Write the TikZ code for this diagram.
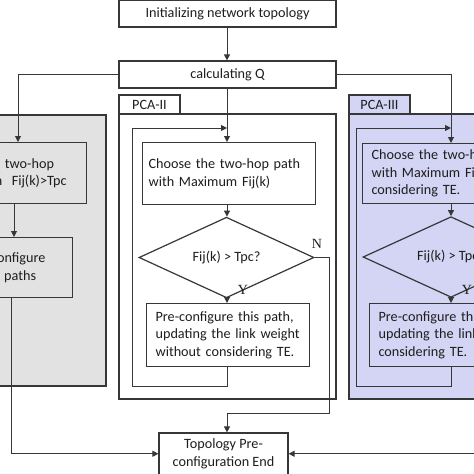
\documentclass[tikz,border=0pt]{standalone}
\usepackage{fontspec}
\setmainfont{Carlito}
\newfontfamily\ynfont{Liberation Serif}
\usetikzlibrary{arrows.meta,shapes.geometric}
\definecolor{linec}{RGB}{55,55,55}
\definecolor{txtc}{RGB}{30,30,30}
\definecolor{grayfill}{RGB}{226,226,226}
\definecolor{lav}{RGB}{212,212,244}
\begin{document}
\begin{tikzpicture}[x=1pt,y=-1pt,
  txt/.style={font=\fontsize{14.2}{17.6}\selectfont, text=txtc},
  box/.style={draw=linec, line width=1.2pt, rectangle, inner sep=0pt, txt},
  lbox/.style={box, align=left, anchor=north west},
  cbox/.style={box, align=center},
  dia/.style={draw=linec, line width=1.2pt, diamond, inner sep=0pt, txt},
  frame/.style={draw=linec, line width=1.2pt},
  arr/.style={draw=linec, line width=1pt, -{Triangle[length=6pt,width=6pt]}},
  conn/.style={draw=linec, line width=1pt},
  yn/.style={font=\ynfont\fontsize{14}{16}\selectfont, text=txtc, inner sep=0pt}
]
\useasboundingbox (0,0) rectangle (474,474);
\clip (0,0) rectangle (474,474);

% column coordinates
\coordinate (mid2) at (227,0);
\coordinate (mid3) at (451,0);
\coordinate (qL) at (18,0);
\coordinate (x1) at (14,0);
\coordinate (x0) at (11,0);
\coordinate (l2a) at (132,386);
\coordinate (l2b) at (132,128);
\coordinate (n2) at (329,413);
\coordinate (l3a) at (356,386);
\coordinate (l3b) at (356,128);
\coordinate (n3) at (553,0);

% containers
\path[frame, fill=grayfill] (-100,115) rectangle (106,386);
\path[frame, fill=lav] (349,114) rectangle (566,399);
\node[box, fill=lav, minimum width=61pt, minimum height=19pt] (tab3) at (379.5,104.5) {PCA-III};
\path[frame] (119,114) rectangle (336,399);
\node[box, minimum width=61pt, minimum height=19pt] (tab2) at (149.5,104.5) {PCA-II};

% top boxes
\node[cbox, minimum width=217pt, minimum height=26.5pt] (init) at (227.5,13.75) {Initializing network topology};
\node[cbox, minimum width=217pt, minimum height=27pt] (calc) at (227.5,74.5) {calculating Q};

% PCA-I (gray)
\node[lbox, fill=grayfill, inner xsep=6pt, text width=147pt, minimum height=61pt] (box1) at (-73,142) {Choose the two-hop\\paths when\ \ Fij(k)>Tpc};
\node[lbox, fill=grayfill, inner xsep=9pt, text width=96pt, minimum height=60pt] (box2) at (-42,237) {Pre-configure\\these paths};

% PCA-II
\node[lbox, fill=white, inner xsep=6pt, text width=161pt, minimum height=62pt] (choose2) at (142,142) {Choose the two-hop path\\with Maximum Fij(k)};
\node[dia, fill=white, minimum width=175pt, minimum height=53pt] (d2) at (226.5,257.5) {Fij(k) > Tpc?};
\node[lbox, fill=white, inner xsep=9pt, text width=145pt, minimum height=63pt] (pre2) at (146,303) {Pre-configure this path,\\updating the link weight\\without considering TE.};

% PCA-III
\node[lbox, fill=lav, inner xsep=9pt, text width=160pt, minimum height=60pt] (choose3) at (362,143) {Choose the two-hop path\\with Maximum Fij(k)\\considering TE.};
\node[dia, fill=lav, minimum width=176pt, minimum height=54pt] (d3) at (451,257) {Fij(k) > Tpc?};
\node[lbox, fill=lav, inner xsep=9pt, text width=145pt, minimum height=63pt] (pre3) at (369,303) {Pre-configure this path,\\updating the link weight\\considering TE.};

% end
\node[cbox, fill=white, minimum width=129pt, minimum height=41.5pt] (end) at (223.5,453.75) {Topology Pre-\\configuration End};

% labels
\node[yn] (y2) at (243,290) {Y};
\node[yn] (nn2) at (317,244) {N};
\node[yn] (y3) at (467,290) {Y};
\node[yn] (nn3) at (541,244) {N};

% connectors
\draw[arr] (init.south -| mid2) -- (calc.north -| mid2);
\draw[arr] (calc.south -| mid2) -- (choose2.north -| mid2);
\draw[arr] (choose2.south -| mid2) -- (d2.north -| mid2);
\draw[arr] (d2.south -| mid2) -- (pre2.north -| mid2);
\draw[arr] (pre2.south -| mid2) |- (l2a) -- (l2b) -- (l2b -| mid2);
\draw[arr] (d2.east) -| (n2) -| (end.north -| mid2);

\draw[arr] (calc.west) -| (box1.north -| qL);
\draw[arr] (box1.south -| x1) -- (box2.north -| x1);
\draw[arr] (box2.south -| x0) |- (end.west);

\draw[arr] (calc.east) -| (choose3.north -| mid3);
\draw[arr] (choose3.south -| mid3) -- (d3.north -| mid3);
\draw[arr] (d3.south -| mid3) -- (pre3.north -| mid3);
\draw[arr] (pre3.south -| mid3) |- (l3a) -- (l3b) -- (l3b -| mid3);
\draw[arr] (d3.east) -| (n3 |- end.east) -- (end.east);
\end{tikzpicture}
\end{document}
